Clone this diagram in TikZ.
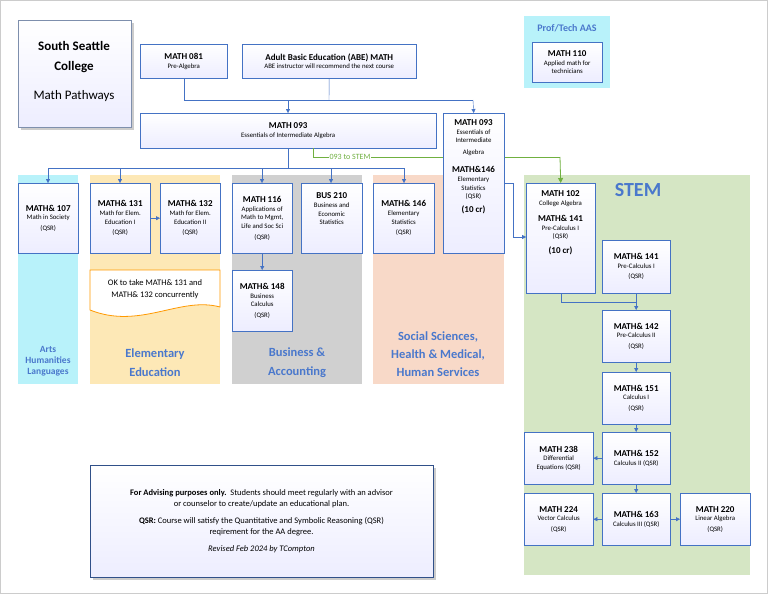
\documentclass[tikz,border=0pt]{standalone}
\usepackage{fontspec}
\setmainfont{Carlito}
\usetikzlibrary{arrows.meta,shadows}
\definecolor{bordblue}{HTML}{4472C4}
\definecolor{labblue}{HTML}{4A78CC}
\definecolor{stemgreen}{HTML}{D5E6C4}
\definecolor{artcyan}{HTML}{B8F2FA}
\definecolor{eduyellow}{HTML}{FDE8B6}
\definecolor{busgray}{HTML}{D0D0D0}
\definecolor{socpeach}{HTML}{F8D9C8}
\definecolor{linegreen}{HTML}{70B040}
\newcommand{\ctitle}[1]{{\fontsize{9}{10}\selectfont\bfseries #1}}
\newcommand{\csub}[1]{#1}
\begin{document}
\begin{tikzpicture}[x=1pt,y=-1pt,
	course/.style={draw=bordblue, top color=white, bottom color=blue!7!white, align=center, inner sep=1pt, anchor=north west, font=\fontsize{6.8}{8.6}\selectfont},
	path label/.style={text=labblue, align=center},
	flow/.style={draw=bordblue, -{Triangle[length=4pt,width=4pt]}},
	flow plain/.style={draw=bordblue}]
	\useasboundingbox (0,0) rectangle (768,594);
	\draw[gray!40] (0.5,0.5) rectangle (767.5,593.5);

	% background panels
	\fill[artcyan] (524,16) rectangle (610,88);
	\fill[artcyan] (18,175) rectangle (78,384);
	\fill[eduyellow] (90,175) rectangle (220,384);
	\fill[busgray] (232,175) rectangle (362,384);
	\fill[socpeach] (373,175) rectangle (504,384);
	\fill[stemgreen] (524,175) rectangle (750,575);

	% title
	\node[course, very thick, draw=bordblue!60!black!60, drop shadow={opacity=0.4}, minimum width=113pt, minimum height=107pt] (title) at (18,20) {};
	\node[align=center, font=\fontsize{13}{20}\selectfont\bfseries] (titletext) at (74,57) {South Seattle\\College};
	\node[font=\fontsize{13}{15}\selectfont] (subtitle) at (74,96) {Math Pathways};

	% entry courses
	\node[course, minimum width=87pt, minimum height=34pt] (m081) at (140,44) {\ctitle{MATH 081}\\Pre-Algebra};
	\node[course, minimum width=174pt, minimum height=34pt] (abe) at (242,44) {\ctitle{Adult Basic Education (ABE) MATH}\\ABE instructor will recommend the next course};
	\node[text=labblue, font=\fontsize{10}{12}\selectfont\bfseries] (proftech) at (567,28) {Prof/Tech AAS};
	\node[course, minimum width=70pt, minimum height=40pt] (m110) at (532,42) {\ctitle{MATH 110}\\Applied math for\\technicians};

	% intermediate algebra
	\node[course, minimum width=296pt, minimum height=35pt] (m093) at (140,113) {\ctitle{MATH 093}\\Essentials of Intermediate Algebra};
	\coordinate (stemjoin) at (560,157);
	\coordinate (greenstart) at (313,148);
	\draw[linegreen, thick] (greenstart) |- node[pos=0.575, fill=white, inner sep=1pt, font=\fontsize{8}{9}\selectfont, text=linegreen] (stemlab) {093 to STEM} (stemjoin);
	\node[course, minimum width=61pt, minimum height=140pt] (m093s) at (443,113) {};
	\node[align=center, anchor=north, font=\fontsize{6.8}{8.6}\selectfont] (m093stext) at (473.5,116) {\ctitle{MATH 093}\\Essentials of\\Intermediate\\[3pt]Algebra\\[10pt]\ctitle{MATH\&146}\\Elementary\\Statistics\\(QSR)\\[5pt]\ctitle{(10 cr)}};

	\draw[flow plain] (m081.south) |- (473,100);
	\draw[flow plain] (abe.south) -- (329,100);
	\draw[flow] (288,100) -- (288,113);
	\draw[flow] (473,100) -- (m093s.north);

	% pathway courses
	\node[course, minimum width=60pt, minimum height=70pt] (m107) at (18,183) {\ctitle{MATH\& 107}\\Math in Society\\[2pt](QSR)};
	\node[course, minimum width=60pt, minimum height=70pt] (m131) at (90,183) {\ctitle{MATH\& 131}\\Math for Elem.\\Education I\\[2pt](QSR)};
	\node[course, minimum width=60pt, minimum height=70pt] (m132) at (160,183) {\ctitle{MATH\& 132}\\Math for Elem.\\Education II\\[2pt](QSR)};
	\node[course, minimum width=60pt, minimum height=70pt] (m116) at (232,183) {\ctitle{MATH 116}\\Applications of\\Math to Mgmt,\\Life and Soc Sci\\[2pt](QSR)};
	\node[course, minimum width=61pt, minimum height=70pt] (bus210) at (301,183) {\ctitle{BUS 210}\\Business and\\Economic\\Statistics\\[10pt]};
	\node[course, minimum width=61pt, minimum height=70pt] (m146) at (373,183) {\ctitle{MATH\& 146}\\Elementary\\Statistics\\[2pt](QSR)};
	\node[course, minimum width=60pt, minimum height=61pt] (m148) at (232,270) {\ctitle{MATH\& 148}\\Business\\Calculus\\[2pt](QSR)};

	\draw[flow plain] (288,148) -- (288,168);
	\draw[flow plain] (48,168) -- (404,168);
	\foreach \dest/\x in {m107/48, m131/120, m116/262, bus210/331, m146/404}
		\draw[flow] (\x,168) -- (\x,183);
	\draw[flow] (m131) -- (m132);
	\draw[flow] (m116) -- (m148);

	% note
	\draw[draw=orange!80!yellow, thick, fill=white] (90,270) -- (220,270) -- (220,307) .. controls (180,296) and (140,330) .. (90,310) -- cycle;
	\node[align=center, font=\fontsize{8.5}{12}\selectfont] (note) at (155,289) {OK to take MATH\& 131 and\\MATH\& 132 concurrently};

	% pathway labels
	\node[path label, font=\fontsize{9.5}{11}\selectfont\bfseries] (arts) at (48,361) {Arts\\Humanities\\Languages};
	\node[path label, font=\fontsize{12.5}{19}\selectfont\bfseries] (edu) at (155,363) {Elementary\\Education};
	\node[path label, font=\fontsize{12.5}{19}\selectfont\bfseries] (busacc) at (297,363) {Business \&\\Accounting};
	\node[path label, font=\fontsize{12.5}{18}\selectfont\bfseries] (social) at (438,354) {Social Sciences,\\Health \& Medical,\\Human Services};

	% STEM
	\node[text=labblue, font=\fontsize{20}{22}\selectfont\bfseries] (stem) at (638,190) {STEM};
	\node[course, minimum width=69pt, minimum height=110pt] (m102) at (526,183) {};
	\node[align=center, anchor=north, font=\fontsize{6.8}{8.6}\selectfont] (m102text) at (560.5,187) {\ctitle{MATH 102}\\College Algebra\\[8pt]\ctitle{MATH\& 141}\\Pre-Calculus I\\(QSR)\\[6pt]\ctitle{(10 cr)}};
	\node[course, minimum width=68pt, minimum height=53pt] (m141) at (602,240) {\ctitle{MATH\& 141}\\Pre-Calculus I\\[2pt](QSR)};
	\node[course, minimum width=68pt, minimum height=52pt] (m142) at (602,310) {\ctitle{MATH\& 142}\\Pre-Calculus II\\[2pt](QSR)};
	\node[course, minimum width=68pt, minimum height=52pt] (m151) at (602,372) {\ctitle{MATH\& 151}\\Calculus I\\[2pt](QSR)};
	\node[course, minimum width=68pt, minimum height=52pt] (m152) at (602,432) {\ctitle{MATH\& 152}\\Calculus II (QSR)};
	\node[course, minimum width=69pt, minimum height=52pt] (m238) at (524,432) {\ctitle{MATH 238}\\Differential\\Equations (QSR)};
	\node[course, minimum width=68pt, minimum height=52pt] (m163) at (602,493) {\ctitle{MATH\& 163}\\Calculus III (QSR)};
	\node[course, minimum width=69pt, minimum height=52pt] (m224) at (524,493) {\ctitle{MATH 224}\\Vector Calculus\\[2pt](QSR)};
	\node[course, minimum width=70pt, minimum height=52pt] (m220) at (680,493) {\ctitle{MATH 220}\\Linear Algebra\\[2pt](QSR)};

	\draw[linegreen, thick, -{Triangle[length=5pt,width=5pt]}] (stemjoin) -- (m102.north);
	\coordinate (statsout) at (504,183);
	\coordinate (statsbend) at (513,183);
	\draw[flow] (statsout) -- (statsbend) |- (526,237);
	\coordinate (pcjoin) at (636,302);
	\draw[flow plain] (m102.south) |- (pcjoin);
	\draw[flow] (m141) -- (m142);
	\draw[flow] (m142) -- (m151);
	\draw[flow] (m151) -- (m152);
	\draw[flow] (m152) -- (m238);
	\draw[flow] (m152) -- (m163);
	\draw[flow] (m163) -- (m224);
	\draw[flow] (m163) -- (m220);

	% advising note
	\node[course, very thick, draw=bordblue!70!black, drop shadow={opacity=0.4}, minimum width=343pt, minimum height=112pt] (advise) at (90,465) {};
	\node[align=center, font=\fontsize{8.5}{11}\selectfont] (advisetext) at (261.5,521) {\textbf{For Advising purposes only.}\ \ Students should meet regularly with an advisor\\or counselor to create/update an educational plan.\\[6pt]\textbf{QSR:} Course will satisfy the Quantitative and Symbolic Reasoning (QSR)\\reqirement for the AA degree.\\[6pt]\textit{Revised Feb 2024 by TCompton}};
\end{tikzpicture}
\end{document}
